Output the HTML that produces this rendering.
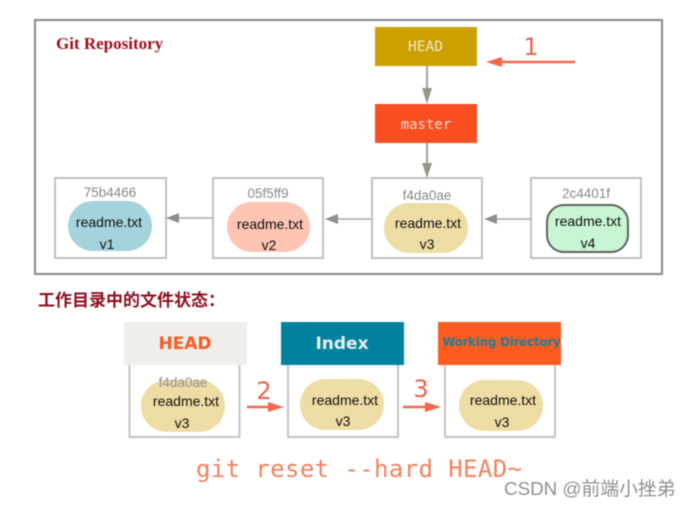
<!DOCTYPE html>
<html>
<head>
<meta charset="utf-8">
<style>
html,body{margin:0;padding:0;background:#fff;width:690px;height:508px;overflow:hidden}
svg{display:block;filter:blur(.45px)}
.sans{font-family:"DejaVu Sans","Liberation Sans",sans-serif}
.file{font-family:"Liberation Sans",sans-serif;font-size:14px;fill:#111;text-anchor:middle}
.hash{font-family:"Liberation Sans",sans-serif;font-size:13.5px;fill:#888;text-anchor:middle}
.mono{font-family:"DejaVu Sans Mono","Liberation Mono",monospace}
</style>
</head>
<body>
<svg width="690" height="508" viewBox="0 0 690 508" xmlns="http://www.w3.org/2000/svg">
<rect x="35" y="20" width="627" height="254" fill="#fff" stroke="#8a8a8a" stroke-width="2"/>
<text x="56" y="49" font-family="'Liberation Serif',serif" font-weight="bold" font-size="17" fill="#9c0f1c">Git Repository</text>

<rect x="375" y="27" width="102" height="39" fill="#cca000"/>
<text x="425.500" y="51" class="mono" font-size="14.500" fill="#f1e7c4" text-anchor="middle">HEAD</text>
<rect x="375" y="104" width="102" height="39" fill="#f94e20"/>
<text x="426" y="129" class="mono" font-size="14" fill="#fbd9cf" text-anchor="middle">master</text>

<path d="M427 66V88" stroke="#a5a29b" stroke-width="2"/><path d="M422 88H432L427 104Z" fill="#98958c"/>
<path d="M427 143V164" stroke="#a5a29b" stroke-width="2"/><path d="M422 163H432L427 178Z" fill="#98958c"/>

<path d="M575 62H500" stroke="#f6674a" stroke-width="2.500"/><path d="M486 62L502 57V67Z" fill="#f6674a"/>
<text x="531" y="55" class="sans" font-size="24" fill="#f0624a" text-anchor="middle">1</text>

<g fill="#fff" stroke="#c0c0c0" stroke-width="2">
<rect x="55" y="178" width="111" height="80"/>
<rect x="213" y="178" width="110" height="80"/>
<rect x="372" y="178" width="110" height="80"/>
<rect x="531" y="178" width="110" height="80"/>
</g>

<path d="M213 218H178" stroke="#b3b3b0" stroke-width="1.800"/><path d="M166 218L179 213V223Z" fill="#8e8e8a"/>
<path d="M372 219H337" stroke="#b3b3b0" stroke-width="1.800"/><path d="M325 219L338 214V224Z" fill="#8e8e8a"/>
<path d="M531 219H496" stroke="#b3b3b0" stroke-width="1.800"/><path d="M484 219L497 214V224Z" fill="#8e8e8a"/>

<text x="110" y="197" class="hash">75b4466</text>
<text x="268" y="198" class="hash">05f5ff9</text>
<text x="427" y="200" class="hash">f4da0ae</text>
<text x="586" y="198" class="hash">2c4401f</text>

<rect x="68" y="201" width="84" height="50" rx="25" ry="25" fill="#a5d3dd"/>
<rect x="227" y="202" width="83" height="50" rx="25" ry="25" fill="#fec4b4"/>
<rect x="384" y="203" width="84" height="50" rx="25" ry="25" fill="#eedca5"/>
<rect x="547" y="205" width="81" height="47" rx="17" ry="17" fill="#c8f5d3" stroke="#5f625f" stroke-width="2"/>

<text x="109" y="227" class="file">readme.txt</text><text x="107" y="249" class="file">v1</text>
<text x="270" y="229" class="file">readme.txt</text><text x="269" y="250" class="file">v2</text>
<text x="428" y="228" class="file">readme.txt</text><text x="427" y="249" class="file">v3</text>
<text x="588" y="226" class="file">readme.txt</text><text x="588" y="248" class="file">v4</text>

<text x="38" y="306" font-family="'Liberation Sans','Noto Sans CJK SC',sans-serif" font-weight="bold" font-size="17" fill="#8f1020">工作目录中的文件状态：</text>

<g fill="#fff" stroke="#c4c4c4" stroke-width="2">
<rect x="129.500" y="350" width="110" height="87"/>
<rect x="288" y="350" width="110" height="87"/>
<rect x="445" y="350" width="110" height="87"/>
</g>

<rect x="124" y="322" width="123" height="43" fill="#efeeea"/>
<rect x="281" y="322" width="123" height="43" fill="#00829f"/>
<rect x="438" y="322" width="123" height="43" fill="#fe5b1f"/>
<text x="185" y="349" font-family="'DejaVu Sans',sans-serif" font-weight="bold" font-size="17" fill="#fb5a23" text-anchor="middle">HEAD</text>
<text x="342" y="349" font-family="'DejaVu Sans',sans-serif" font-weight="bold" font-size="17" fill="#e6eff0" text-anchor="middle">Index</text>
<text x="501.500" y="346" font-family="'DejaVu Sans',sans-serif" font-weight="bold" font-size="12.200" fill="#17809a" text-anchor="middle" textLength="118" lengthAdjust="spacingAndGlyphs">Working Directory</text>

<rect x="141" y="380" width="84" height="52" rx="26" ry="26" fill="#eedca5"/>
<rect x="300" y="379" width="84" height="51" rx="25.500" ry="25.500" fill="#eedca5"/>
<rect x="459" y="380" width="84" height="51" rx="25.500" ry="25.500" fill="#eedca5"/>

<text x="183" y="387" class="hash" fill-opacity=".9">f4da0ae</text>
<text x="186" y="406" class="file">readme.txt</text><text x="182" y="428" class="file">v3</text>
<text x="345" y="405" class="file">readme.txt</text><text x="343" y="426" class="file">v3</text>
<text x="503" y="405" class="file">readme.txt</text><text x="502" y="427" class="file">v3</text>

<path d="M247 407H272" stroke="#f6674a" stroke-width="2.500"/><path d="M284 407L268 402V412Z" fill="#f6674a"/>
<path d="M403 407H428" stroke="#f6674a" stroke-width="2.500"/><path d="M441 407L425 402V412Z" fill="#f6674a"/>
<text x="264" y="399" class="sans" font-size="24" fill="#f0624a" text-anchor="middle">2</text>
<text x="421" y="397" class="sans" font-size="24" fill="#f0624a" text-anchor="middle">3</text>

<text x="196" y="477" class="mono" font-size="24" fill="#f2815f" textLength="326" lengthAdjust="spacing">git reset --hard HEAD~</text>

<text x="504" y="495" font-family="'Liberation Sans','Noto Sans CJK SC',sans-serif" font-size="18.800" fill="#8f8f8f">CSDN @前端小挫弟</text>
</svg>
</body>
</html>
